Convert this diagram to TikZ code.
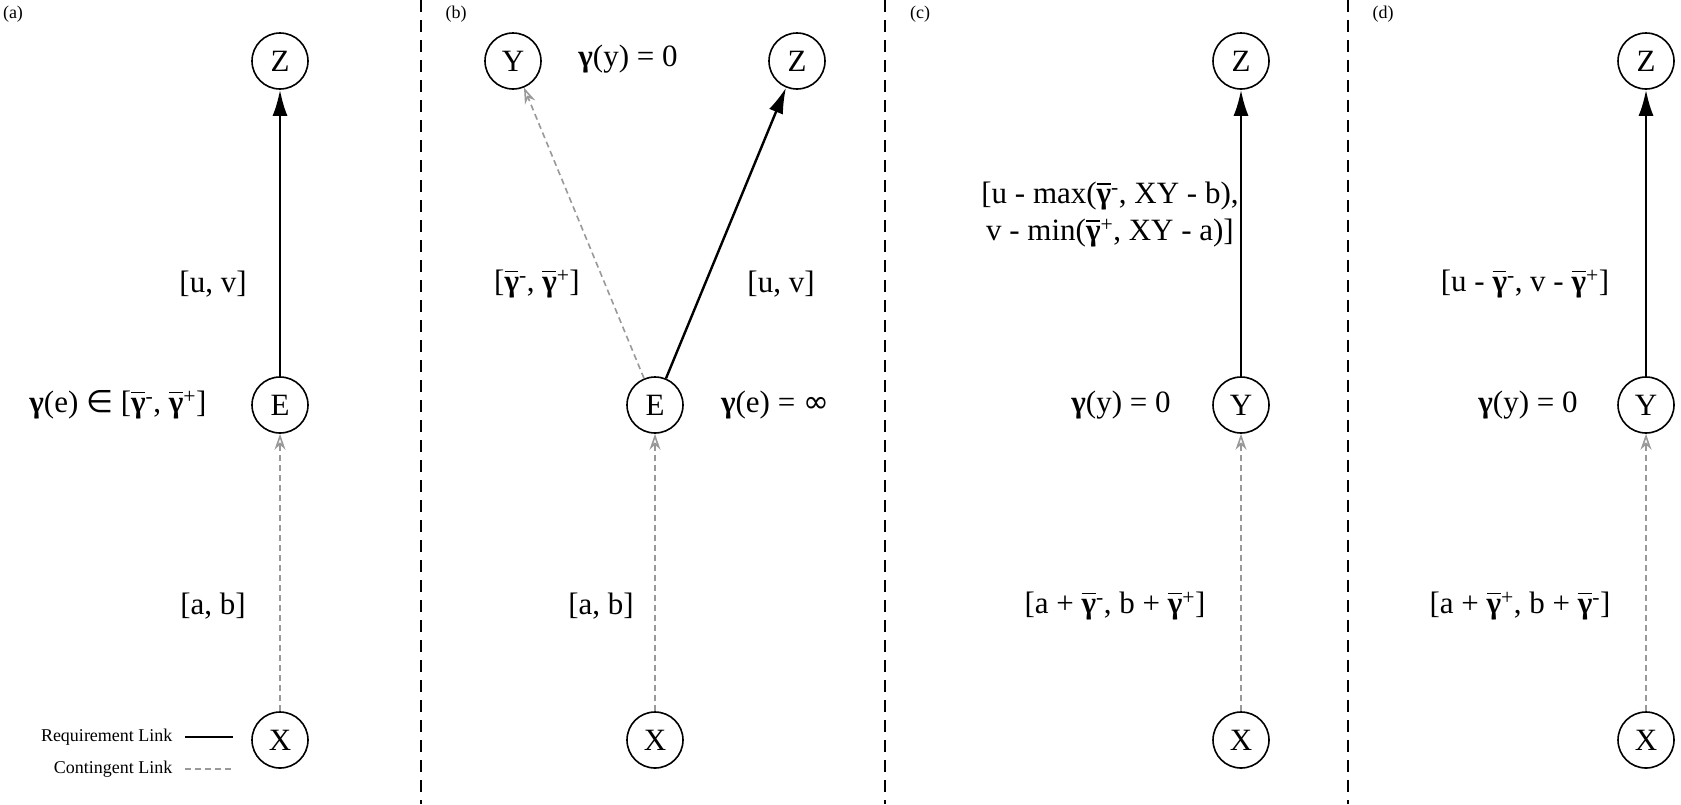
\documentclass[tikz,border=0pt]{standalone}
\usepackage{fontspec}
\setmainfont{Liberation Serif}
\newfontfamily\dv{DejaVu Sans}
\usetikzlibrary{arrows.meta}
\newcommand{\gb}{\textbf{γ}}
\newcommand{\gbar}{\makebox[0pt][l]{\rule[0.62em]{0.45em}{1.6pt}}\textbf{γ}}
\begin{document}
\begin{tikzpicture}[x=1pt,y=-1pt,
 nd/.style={circle,draw,line width=1.6pt,minimum size=56pt,inner sep=0pt,font=\fontsize{31}{36}\selectfont},
 lab/.style={font=\fontsize{31}{37}\selectfont,align=center},
 req/.style={line width=2.4pt,-{Latex[length=26pt,width=15pt]}},
 con/.style={gray!80,line width=1.6pt,dash pattern=on 6pt off 4pt,-{Stealth[open,length=16pt,width=11pt]}},
 sep/.style={line width=1.6pt,dash pattern=on 12pt off 8pt},
 pl/.style={font=\fontsize{18}{21}\selectfont}]
\useasboundingbox (0,0) rectangle (1681,804);
\foreach \x in {421,885,1348} \draw[sep] (\x,0) -- (\x,804);
\node[pl] at (13,14) {(a)};
\node[pl] at (456,14) {(b)};
\node[pl] at (920,14) {(c)};
\node[pl] at (1383,14) {(d)};
% (a)
\node[nd] (aZ) at (280,61) {Z};
\node[nd] (aE) at (280,405) {E};
\node[nd] (aX) at (280,740) {X};
\draw[req] (aE) -- (aZ);
\draw[con] (aX) -- (aE);
\node[lab] at (213,284) {[u, v]};
\node[lab] at (118,405) {\gb(e) {\dv∈} [\gbar\textsuperscript{-}, \gbar\textsuperscript{+}]};
\node[lab] at (213,606) {[a, b]};
\node[pl,anchor=east] (rl) at (176,737) {Requirement Link};
\node[pl,anchor=east] (cl) at (176,769) {Contingent Link};
\coordinate (r1) at (185,737); \coordinate (r2) at (233,737);
\coordinate (c1) at (185,769); \coordinate (c2) at (233,769);
\draw[line width=2pt] (r1) -- (r2);
\draw[gray!80,line width=1.6pt,dash pattern=on 6pt off 4pt] (c1) -- (c2);
% (b)
\node[nd] (bY) at (513,61) {Y};
\node[nd] (bZ) at (797,61) {Z};
\node[nd] (bE) at (655,405) {E};
\node[nd] (bX) at (655,740) {X};
\draw[req] (bE) -- (bZ);
\draw[con] (bE) -- (bY);
\draw[con] (bX) -- (bE);
\node[lab] at (628,59) {\gb(y) = 0};
\node[lab] at (537,284) {[\gbar\textsuperscript{-}, \gbar\textsuperscript{+}]};
\node[lab] at (781,284) {[u, v]};
\node[lab] at (775,405) {\gb(e) = {\dv∞}};
\node[lab] at (601,606) {[a, b]};
% (c)
\node[nd] (cZ) at (1241,61) {Z};
\node[nd] (cY) at (1241,405) {Y};
\node[nd] (cX) at (1241,740) {X};
\draw[req] (cY) -- (cZ);
\draw[con] (cX) -- (cY);
\node[lab] at (1110,215) {[u - max(\gbar\textsuperscript{-}, XY - b),\\ v - min(\gbar\textsuperscript{+}, XY - a)]};
\node[lab] at (1121,405) {\gb(y) = 0};
\node[lab] at (1115,606) {[a + \gbar\textsuperscript{-}, b + \gbar\textsuperscript{+}]};
% (d)
\node[nd] (dZ) at (1646,61) {Z};
\node[nd] (dY) at (1646,405) {Y};
\node[nd] (dX) at (1646,740) {X};
\draw[req] (dY) -- (dZ);
\draw[con] (dX) -- (dY);
\node[lab] at (1525,284) {[u - \gbar\textsuperscript{-}, v - \gbar\textsuperscript{+}]};
\node[lab] at (1528,405) {\gb(y) = 0};
\node[lab] at (1520,606) {[a + \gbar\textsuperscript{+}, b + \gbar\textsuperscript{-}]};
\end{tikzpicture}
\end{document}
